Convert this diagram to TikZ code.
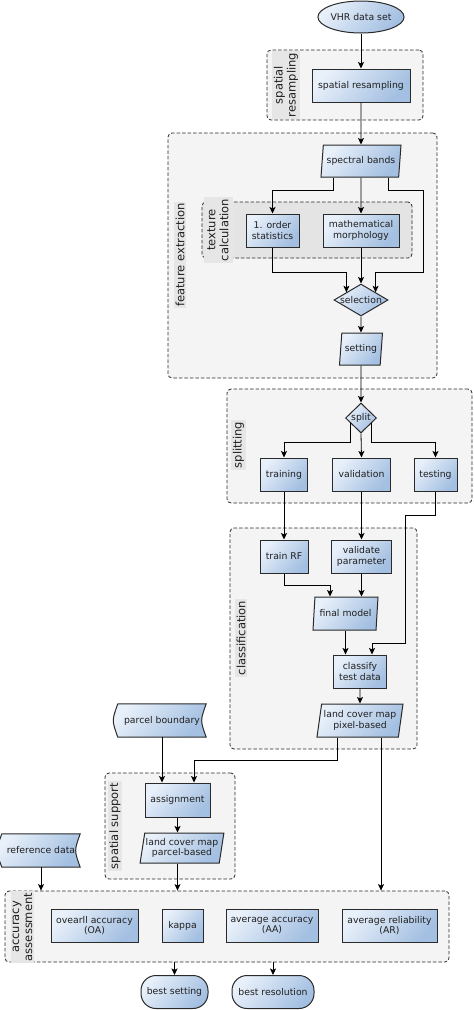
\documentclass[tikz,border=0pt]{standalone}
\usepackage{fontspec}
\setmainfont{DejaVu Sans}
\usetikzlibrary{shapes.geometric,arrows.meta,calc}
\pgfdeclarelayer{back}
\pgfdeclarelayer{mid}
\pgfsetlayers{back,mid,main}
\definecolor{bluelt}{HTML}{E8F0FA}
\definecolor{bluedk}{HTML}{A3BFE1}
\definecolor{grpfill}{HTML}{F4F4F4}
\definecolor{texfill}{HTML}{E4E4E4}
\definecolor{lblfill}{HTML}{E6E6E6}
\definecolor{edge}{HTML}{2A2A2A}
\begin{document}
\begin{tikzpicture}[x=1pt,y=-1pt,
  font=\fontsize{9.3}{10.8}\selectfont,
  base/.style={draw=edge, line width=1pt, top color=bluelt, bottom color=bluedk, shading angle=50, inner sep=1pt, align=center, text=black!88},
  proc/.style={base, rectangle},
  para/.style={base, trapezium, trapezium left angle=78, trapezium right angle=102, trapezium stretches body=true},
  deci/.style={base, diamond, inner sep=0pt},
  term/.style={base, rounded corners=15pt},
  stor/.style={rectangle, inner sep=1pt, align=center, text=black!88},
  storshape/.style={draw=edge, line width=1pt, top color=bluelt, bottom color=bluedk, shading angle=50},
  grp/.style={draw=edge, line width=0.8pt, dash pattern=on 3.5pt off 2pt, rounded corners=4pt, fill=grpfill, inner sep=0pt},
  glabel/.style={fill=lblfill, rotate=90, font=\fontsize{11.5}{13}\selectfont, align=center, inner sep=1.5pt, text=black!88},
  arr/.style={draw=black, line width=0.8pt, -{Stealth[length=6.5pt, width=6pt, inset=1.5pt]}},
]
\useasboundingbox (0,0) rectangle (474,1010);

% ---------- groups ----------
\begin{pgfonlayer}{back}
\node[grp, minimum width=156, minimum height=70] (gres) at (345,85) {};
\node[grp, minimum width=269, minimum height=245] (gfeat) at (302.5,255.5) {};
\node[grp, fill=texfill, minimum width=210, minimum height=56] (gtex) at (307,230) {};
\node[grp, minimum width=245, minimum height=114] (gsplit) at (349.5,446) {};
\node[grp, minimum width=187, minimum height=221] (gclass) at (323.5,638.5) {};
\node[grp, minimum width=130, minimum height=106] (gsup) at (170,826) {};
\node[grp, minimum width=444, minimum height=71] (gacc) at (227,926.5) {};

\node[glabel] (lres) at (286,85) {spatial\\resampling};
\node[glabel] (lfeat) at (180,255) {feature extraction};
\node[glabel, minimum height=29] (ltex) at (218,230) {texture\\calculation};
\node[glabel] (lsplit) at (238.5,445) {splitting};
\node[glabel] (lclass) at (241,638) {classification};
\node[glabel] (lsup) at (115,826) {spatial support};
\node[glabel] (lacc) at (22.5,927) {accuracy\\assessment};
\end{pgfonlayer}

% ---------- nodes ----------
\node[base, ellipse, minimum width=73, minimum height=32, inner sep=0pt] (vhr) at (361,17) {VHR data set};
\node[proc, minimum width=98, minimum height=33] (res) at (361,85.5) {spatial resampling};
\node[para, minimum width=80, minimum height=32] (sb) at (361,161) {spectral bands};
\node[proc, minimum width=53, minimum height=33] (ord) at (272.5,230.5) {1. order\\statistics};
\node[proc, minimum width=76, minimum height=33] (morph) at (361,230.5) {mathematical\\morphology};
\node[deci, minimum width=54, minimum height=32] (sel) at (361,300) {\makebox[0pt]{selection}};
\node[para, minimum width=43, minimum height=32] (set) at (361,349) {setting};
\node[deci, minimum width=31, minimum height=30] (split) at (361,418) {\makebox[0pt]{split}};
\node[proc, minimum width=47, minimum height=33] (train) at (284,474.5) {training};
\node[proc, minimum width=58, minimum height=33] (val) at (361.5,474.5) {validation};
\node[proc, minimum width=43, minimum height=33] (test) at (435.5,474.5) {testing};
\node[proc, minimum width=48, minimum height=33] (rf) at (284,556.5) {train RF};
\node[proc, minimum width=60, minimum height=33] (vp) at (361.5,556.5) {validate\\parameter};
\node[para, minimum width=65, minimum height=33] (fm) at (345.5,613.5) {final model};
\node[proc, minimum width=53, minimum height=33] (ctd) at (360,671.5) {classify\\test data};
\node[para, minimum width=86, minimum height=33] (lcp) at (360,720.5) {land cover map\\pixel-based};
\node[stor, minimum width=88, minimum height=33] (pb) at (162,720.5) {parcel boundary};
\node[proc, minimum width=65, minimum height=34] (asg) at (177.5,800) {assignment};
\node[para, minimum width=79, minimum height=30] (lcpb) at (182,848) {land cover map\\parcel-based};
\node[stor, minimum width=78, minimum height=33] (ref) at (41,850.5) {reference data};
\node[proc, minimum width=87, minimum height=33] (oa) at (94.5,925.5) {ovearll accuracy\\(OA)};
\node[proc, minimum width=41, minimum height=33] (kap) at (182.5,925.5) {kappa};
\node[proc, minimum width=92, minimum height=33] (aa) at (272,925.5) {average accuracy\\(AA)};
\node[proc, minimum width=95, minimum height=33] (ar) at (389.5,925.5) {average reliability\\(AR)};
\node[term, minimum width=67, minimum height=33] (bs) at (174.5,992) {best setting};
\node[term, minimum width=82, minimum height=33] (br) at (273,992) {best resolution};

% stored-data outlines
\begin{pgfonlayer}{mid}
\foreach \n in {pb,ref}{
  \shadedraw[storshape] (\n.north west) -- (\n.north east)
    .. controls ([xshift=-6pt]\n.east) .. (\n.south east) -- (\n.south west)
    .. controls ([xshift=-6pt]\n.west) .. (\n.north west);
}
\end{pgfonlayer}

% ---------- connectors ----------
\draw[arr] (vhr.south) -- (res.north);
\draw[arr] (res.south) -- (sb.north);
\draw[arr] ([xshift=-28pt]sb.south) -- ++(0,13) -| (ord.north);
\draw[arr] (sb.south) -- (morph.north);
\draw[arr] ([xshift=27pt]sb.south) -- ++(0,13) -| ++(35,82) -| (sel.28);
\draw[arr] (ord.south) -- ++(0,25) -| (sel.152);
\draw[arr] (morph.south) -- (sel.north);
\draw[arr] (sel.south) -- (set.north);
\draw[arr] (set.south) -- (split.north);
\draw[arr] (split.205) |- ($(train.north)+(0,-15)$) -- (train.north);
\draw[arr] (split.south) -- (val.north);
\draw[arr] (split.-25) |- ($(test.north)+(0,-15)$) -- (test.north);
\draw[arr] (train.south) -- (rf.north);
\draw[arr] (val.south) -- (vp.north);
\draw[arr] (test.south) -- ++(0,24) -| ++(-30.5,128) -| ([xshift=12pt]ctd.north);
\draw[arr] (rf.south) -- ++(0,12) -| ([xshift=-15.5pt]fm.north);
\draw[arr] (vp.south) -- (vp.south |- fm.north);
\draw[arr] (fm.south) -- (fm.south |- ctd.north);
\draw[arr] (ctd.south) -- (lcp.north);
\draw[arr] ([xshift=-23pt]lcp.south) -- ++(0,23) -| ([xshift=16.5pt]asg.north);
\draw[arr] ([xshift=21pt]lcp.south) -- ([xshift=21pt]lcp.south |- gacc.north);
\draw[arr] (pb.south) -- (pb.south |- asg.north);
\draw[arr] (asg.south) -- (asg.south |- lcpb.north);
\draw[arr] (asg.south |- lcpb.south) -- (asg.south |- gacc.north);
\draw[arr] (ref.south) -- (ref.south |- gacc.north);
\draw[arr] (bs.north |- gacc.south) -- (bs.north);
\draw[arr] (br.north |- gacc.south) -- (br.north);
\end{tikzpicture}
\end{document}
